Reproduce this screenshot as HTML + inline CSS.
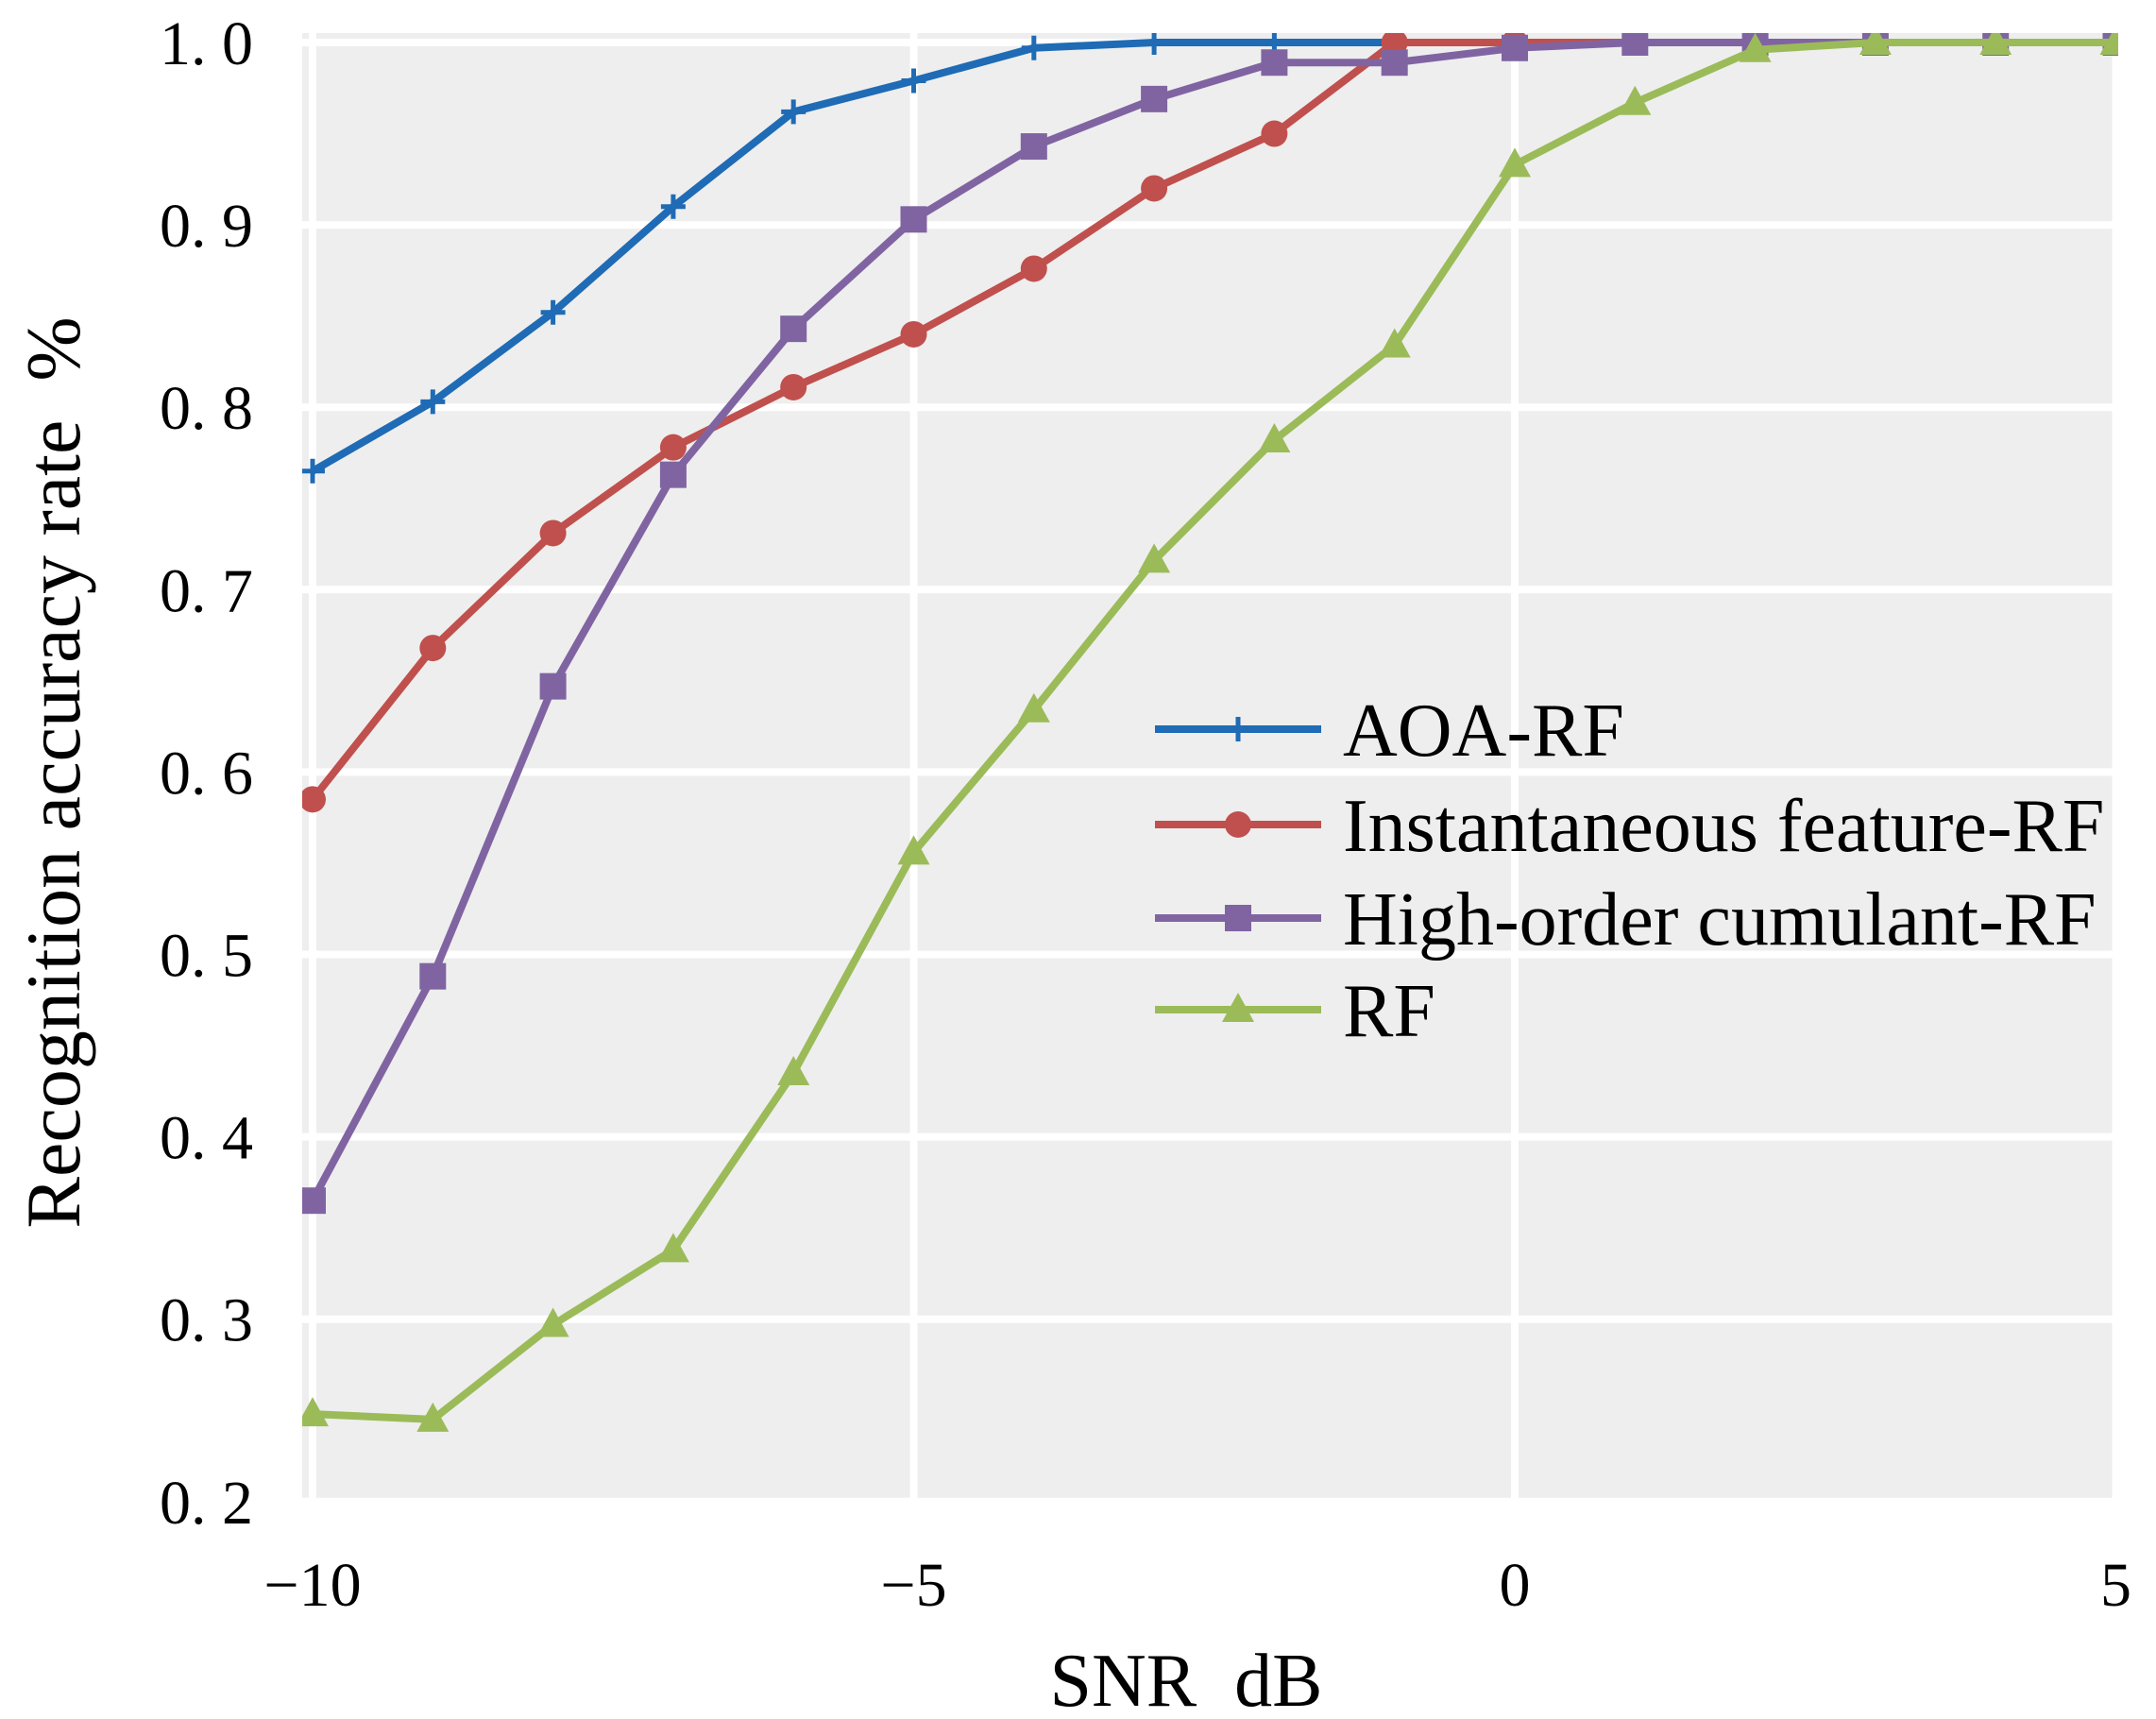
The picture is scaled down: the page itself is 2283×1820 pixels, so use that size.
<!DOCTYPE html>
<html><head><meta charset="utf-8"><style>
html,body{margin:0;padding:0;background:#fff;}
svg{display:block;}
text{font-family:"Liberation Serif","Noto Serif CJK SC",serif;fill:#000;}
</style></head><body>
<svg id="chart" width="2283" height="1820" viewBox="0 0 2283 1820">
<defs><clipPath id="pc"><rect x="320" y="35" width="1923" height="1554"/></clipPath></defs>
<rect x="320" y="35" width="1923" height="1554" fill="#eeeeee"/>
<g id="grid"></g>
<g id="series" clip-path="url(#pc)"></g>
<g id="ticks"></g>
<text x="1256" y="1806" font-size="80" text-anchor="middle" style="white-space:pre">SNR  dB</text>
<text transform="translate(84,818) rotate(-90)" font-size="82" text-anchor="middle" style="white-space:pre">Recognition accuracy rate  %</text>
<g id="legend"></g>
</svg>
<script>
const snr = [-10,-9,-8,-7,-6,-5,-4,-3,-2,-1,0,1,2,3,4,5];
const aoaRF = [0.765,0.803,0.852,0.910,0.962,0.979,0.997,1,1,1,1,1,1,1,1,1];
const instRF = [0.585,0.668,0.731,0.778,0.811,0.840,0.876,0.920,0.950,1,1,1,1,1,1,1];
const hocRF = [0.365,0.488,0.647,0.763,0.843,0.903,0.943,0.969,0.989,0.989,0.997,1,1,1,1,1];
const rfOnly = [0.248,0.245,0.297,0.338,0.435,0.556,0.634,0.716,0.782,0.834,0.933,0.967,0.996,1,1,1];
const xTicks = [-10,-5,0,5];
const xTickLabels = ["\u221210","\u22125","0","5"];
const yTicks = [0.2,0.3,0.4,0.5,0.6,0.7,0.8,0.9,1.0];
const yTickLabels = ["0. 2","0. 3","0. 4","0. 5","0. 6","0. 7","0. 8","0. 9","1. 0"];
const seriesNames = ["AOA-RF","Instantaneous feature-RF","High-order cumulant-RF","RF"];

const NS="http://www.w3.org/2000/svg";
function X(v){return 331+(v+10)*127.3;}
function Y(v){return 45+(1.0-v)*1931;}
function mk(tag,attrs,parent){const e=document.createElementNS(NS,tag);for(const k in attrs)e.setAttribute(k,attrs[k]);parent.appendChild(e);return e;}
const grid=document.getElementById('grid'),ticks=document.getElementById('ticks'),ser=document.getElementById('series'),leg=document.getElementById('legend');
yTicks.forEach((t,i)=>{
  const l=mk('line',{x1:320,x2:2243,y1:Y(t),y2:Y(t),stroke:'#fff','stroke-width':8},grid);
  
  
  const tx=mk('text',{x:268,y:Y(t)+23,'font-size':66,'text-anchor':'end'},ticks);
  tx.textContent=yTickLabels[i];
  
  
});
xTicks.forEach((t,i)=>{
  const l=mk('line',{x1:X(t),x2:X(t),y1:35,y2:1589,stroke:'#fff','stroke-width':8},grid);
  
  
  const tx=mk('text',{x:X(t),y:1700,'font-size':66,'text-anchor':'middle'},ticks);
  tx.textContent=xTickLabels[i];
  
  
});
function marker(type,cx,cy,color,g){
  if(type==='plus'){mk('path',{d:`M${cx-13},${cy}H${cx+13}M${cx},${cy-13}V${cy+13}`,stroke:color,'stroke-width':5},g);}
  else if(type==='circle'){mk('circle',{cx:cx,cy:cy,r:14,fill:color},g);}
  else if(type==='square'){mk('rect',{x:cx-14,y:cy-14,width:28,height:28,fill:color},g);}
  else {mk('path',{d:`M${cx},${cy-18}L${cx+17},${cy+13}L${cx-17},${cy+13}Z`,fill:color},g);}
}
const all=[[aoaRF,'#1f6bb5','plus','series-aoa-rf'],[instRF,'#c0504d','circle','series-instantaneous-rf'],[hocRF,'#8064a2','square','series-high-order-rf'],[rfOnly,'#9bbb59','triangle','series-rf']];
all.forEach(([vals,color,type,name],si)=>{
  const g=mk('g',{},ser);
  
  
  const pts=vals.map((v,i)=>X(snr[i])+','+Y(v)).join(' ');
  mk('polyline',{points:pts,fill:'none',stroke:color,'stroke-width':8,'stroke-linejoin':'round'},g);
  vals.forEach((v,i)=>marker(type,X(snr[i]),Y(v),color,g));
  const ly=[772,873,972,1069][si];
  const lg=mk('g',{},leg);
  
  
  mk('line',{x1:1223,x2:1399,y1:ly,y2:ly,stroke:color,'stroke-width':8},lg);
  marker(type,1311,ly,color,lg);
  const t=mk('text',{x:1422,y:ly+28,'font-size':80,textLength:0},lg);
  t.removeAttribute('textLength');
  t.textContent=seriesNames[si];
});
</script>
</body></html>
